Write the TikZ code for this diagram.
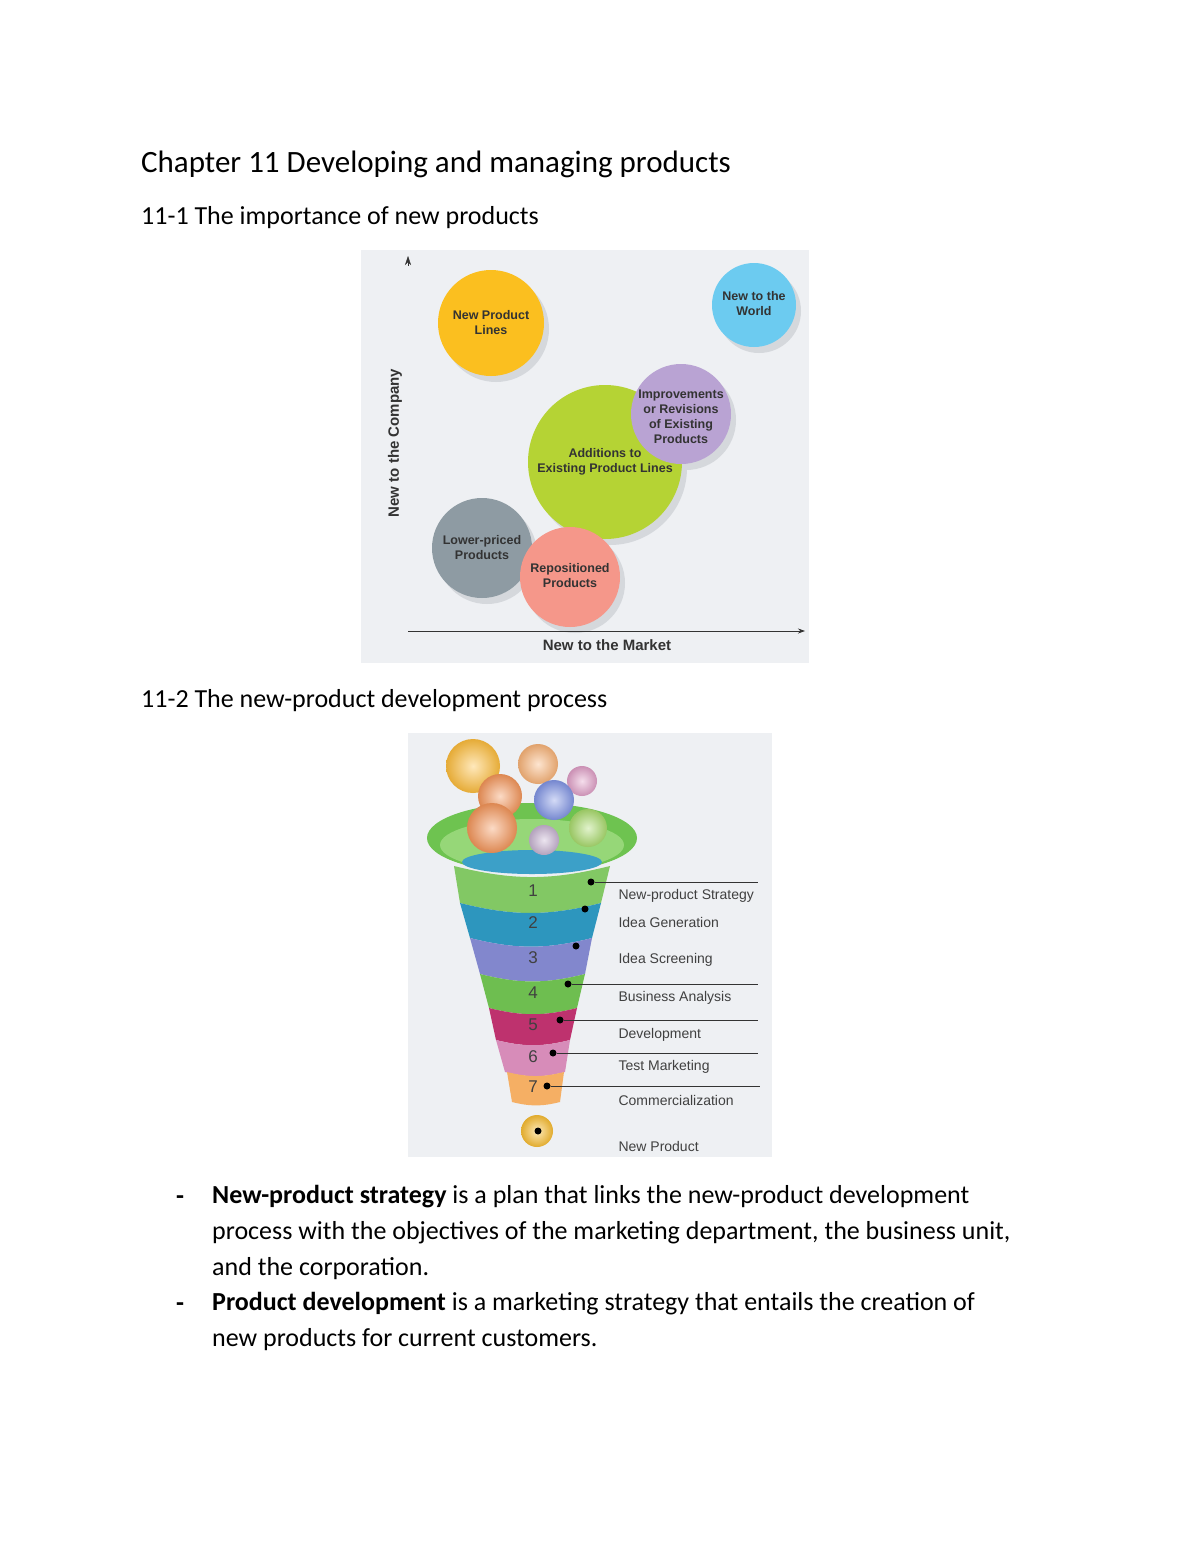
\documentclass[tikz,border=0pt]{standalone}
\usepackage{fontspec}
\setmainfont{Carlito}
\newfontfamily\lblfont{Liberation Sans}
\usetikzlibrary{arrows.meta,shadings}
\definecolor{bgc}{HTML}{EEF0F3}
\definecolor{shd}{HTML}{D5D8DC}
\definecolor{cNPL}{RGB}{251,191,31}
\definecolor{cNTW}{RGB}{108,203,240}
\definecolor{cADD}{RGB}{181,211,52}
\definecolor{cIMP}{RGB}{185,163,211}
\definecolor{cLOW}{RGB}{142,155,163}
\definecolor{cREP}{RGB}{245,151,138}
\definecolor{rimA}{RGB}{110,195,80}
\definecolor{rimB}{RGB}{150,215,120}
\definecolor{rimC}{RGB}{60,160,200}
\definecolor{bA}{RGB}{130,200,100}
\definecolor{bB}{RGB}{45,150,190}
\definecolor{bC}{RGB}{130,135,205}
\definecolor{bD}{RGB}{110,190,80}
\definecolor{bE}{RGB}{190,50,110}
\definecolor{bF}{RGB}{215,140,185}
\definecolor{bG}{RGB}{245,175,100}
\definecolor{k1}{RGB}{255,190,60}
\definecolor{k2}{RGB}{250,180,120}
\definecolor{k3}{RGB}{225,160,200}
\definecolor{k4}{RGB}{245,150,90}
\definecolor{k5}{RGB}{130,150,230}
\definecolor{k6}{RGB}{170,220,110}
\definecolor{k7}{RGB}{200,180,210}
\definecolor{k8}{RGB}{250,190,50}
\tikzset{
  bub/.style={circle,minimum size=#1,inner sep=0pt,align=center,font=\lblfont\bfseries\fontsize{12.5}{15}\selectfont,text=black!80},
  stage/.style={anchor=west,font=\lblfont\fontsize{14}{16}\selectfont,text=black!75},
  num/.style={font=\lblfont\fontsize{17}{19}\selectfont,text=black!75},
  dot/.style={circle,fill=black,inner sep=0pt,minimum size=7pt},
  lead/.style={black!80,line width=1pt},
  body/.style={anchor=north west,align=left,font=\fontsize{26}{36}\selectfont,inner sep=0pt},
  bulletdash/.style={anchor=base west,inner sep=0pt,font=\bfseries\fontsize{26}{30}\selectfont},
  head/.style={anchor=base west,inner sep=0pt,font=\fontsize{26}{30}\selectfont}
}
\begin{document}
\begin{tikzpicture}[x=1pt,y=-1pt]
\useasboundingbox[fill=white] (0,0) rectangle (1200,1553);
% headings
\node[anchor=base west,inner sep=0pt,font=\fontsize{31}{34}\selectfont] (title) at (141,172) {Chapter 11 Developing and managing products};
\node[head] (h1) at (141,224) {11-1 The importance of new products};
\node[head] (h2) at (141,707) {11-2 The new-product development process};
% chart 1
\fill[bgc] (361,250) rectangle (809,663);
\foreach \x/\y/\r in {491/323/53,754/305/42,605/462/77,681/414/50,482/548/50,570/577/50}
  \fill[shd] (\x+5,\y+6) circle (\r);
\fill[cNPL] (491,323) circle (53);
\node[bub=10pt] (npl) at (491,323) {New Product\\Lines};
\fill[cNTW] (754,305) circle (42);
\node[bub=10pt] (ntw) at (754,304) {New to the\\World};
\fill[cADD] (605,462) circle (77);
\node[bub=10pt] (add) at (605,462) {Additions to\\Existing Product Lines};
\fill[cIMP] (681,414) circle (50);
\node[bub=10pt] (imp) at (681,417) {Improvements\\or Revisions\\of Existing\\Products};
\fill[cLOW] (482,548) circle (50);
\node[bub=10pt] (low) at (482,548) {Lower-priced\\Products};
\fill[cREP] (570,577) circle (50);
\node[bub=10pt] (rep) at (570,576) {Repositioned\\Products};
\coordinate (o) at (408,631);
\coordinate (xe) at (805,631);
\coordinate (ys) at (408,266);
\coordinate (ye) at (408,256);
\draw[black!80,line width=0.8pt,-{Stealth[length=7pt,width=5pt]}] (o) -- (xe);
\draw[black!80,-{Stealth[length=9pt,width=6pt]}] (ys) -- (ye);
\node[font=\lblfont\bfseries\fontsize{15}{17}\selectfont,text=black!80] (xl) at (607,645) {New to the Market};
\node[font=\lblfont\bfseries\fontsize{15}{17}\selectfont,text=black!80,rotate=90] (yl) at (395,443) {New to the Company};
% chart 2
\fill[bgc] (408,733) rectangle (772,1157);
\fill[rimA] (532,838) ellipse (105 and 35);
\fill[rimB] (532,845) ellipse (92 and 26);
\fill[rimC] (532,862) ellipse (70 and 12);
\def\band#1#2#3#4#5#6#7{\fill[#7] (#1,#3) -- (#4,#5) to[bend right=14] (#6,#5) -- (#2,#3) to[bend left=14] (#1,#3) -- cycle;}
\band{454}{610}{866}{460}{903}{601}{bA}
\band{460}{601}{903}{470}{938}{592}{bB}
\band{470}{592}{938}{480}{974}{585}{bC}
\band{480}{585}{974}{489}{1008}{577}{bD}
\band{489}{577}{1008}{496}{1040}{570}{bE}
\band{496}{570}{1040}{505}{1072}{565}{bF}
\band{507}{564}{1072}{512}{1102}{560}{bG}
\foreach \x/\y/\r/\c in {473/766/27/k1,538/764/20/k2,582/781/15/k3,500/796/22/k4,554/800/20/k5,492/828/25/k4,588/828/19/k6,544/840/15/k7,537/1131/16/k8}
  \shade[inner color=\c!35!white,outer color=\c!90!black,shading=radial] (\x,\y) circle (\r);
\foreach \n/\y in {1/891,2/923,3/958,4/993,5/1025,6/1057,7/1087}
  \node[num] (n\n) at (533,\y) {\n};
\node[dot] (d1) at (591,882) {};
\node[dot] (d2) at (585,909) {};
\node[dot] (d3) at (576,946) {};
\node[dot] (d4) at (568,984) {};
\node[dot] (d5) at (560,1020) {};
\node[dot] (d6) at (553,1053) {};
\node[dot] (d7) at (547,1086) {};
\node[dot] (d8) at (538,1131) {};
\coordinate (e1) at (758,882);
\coordinate (e4) at (758,984);
\coordinate (e5) at (758,1020);
\coordinate (e6) at (758,1053);
\coordinate (e7) at (760,1086);
\foreach \i in {1,4,5,6,7} \draw[lead] (d\i) -- (e\i);
\node[stage] (s1) at (615,896) {New-product Strategy};
\node[stage] (s2) at (615,922) {Idea Generation};
\node[stage] (s3) at (615,960) {Idea Screening};
\node[stage] (s4) at (615,998) {Business Analysis};
\node[stage] (s5) at (615,1035) {Development};
\node[stage] (s6) at (615,1067) {Test Marketing};
\node[stage] (s7) at (615,1100) {Commercialization};
\node[stage] (s8) at (615,1146) {New Product};
% bullets
\node[bulletdash] (b1) at (176,1204) {-};
\node[bulletdash] (b2) at (176,1311) {-};
\node[body] (t1) at (212,1185) {\textbf{New-product strategy} is a plan that links the new-product development\\process with the objectives of the marketing department, the business unit,\\and the corporation.};
\node[body] (t2) at (212,1292) {\textbf{Product development} is a marketing strategy that entails the creation of\\new products for current customers.};
\end{tikzpicture}
\end{document}
